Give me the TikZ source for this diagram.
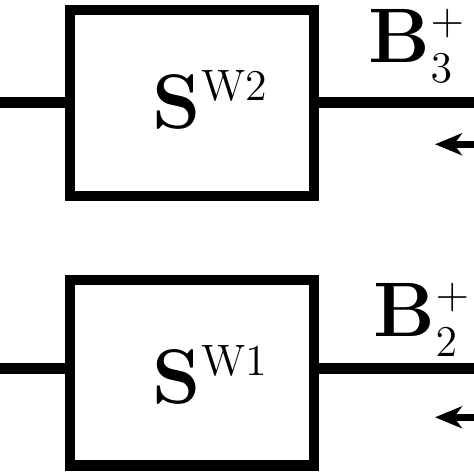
\RequirePackage{fix-cm}
\documentclass[tikz,border=0pt]{standalone}
\usepackage{amsmath,amsfonts}
\usetikzlibrary{arrows.meta}
\DeclareMathSizes{22}{22}{12.5}{9}

\begin{document}
\begin{tikzpicture}[block/.style={draw,line width=1mm,minimum width=2.44cm,minimum height=1.86cm},
                    wire/.style={line width=1.1mm},
                    flow/.style={line width=0.65mm,-{Stealth[length=2.7mm,width=2.2mm,inset=0.8mm]}},
                    lbl/.style={inner sep=0pt,font=\fontsize{22}{26}\selectfont}]
    \useasboundingbox (0,0) rectangle (4.74,4.74);
    % the two blocks
    \node[block] (box2) at (1.92,3.71) {};
    \node[block,minimum height=1.855cm] (box1) at (1.92,1.0125) {};
    \node[lbl,anchor=base west] (s2) at (1.52,3.45) {$\mathbf{S}^{\mathrm{W2}}$};
    \node[lbl,anchor=base west] (s1) at (1.52,0.70) {$\mathbf{S}^{\mathrm{W1}}$};
    % wires
    \coordinate (in2) at (-0.1,3.715);
    \coordinate (out2) at (4.84,3.715);
    \coordinate (in1) at (-0.1,1.05);
    \coordinate (out1) at (4.84,1.05);
    \draw[wire] (in2) -- (in2 -| box2.west);
    \draw[wire] (in2 -| box2.east) -- (out2);
    \draw[wire] (in1) -- (in1 -| box1.west);
    \draw[wire] (in1 -| box1.east) -- (out1);
    % labels and arrows on the right
    \node[lbl,anchor=base west] (b3) at (3.68,4.11) {$\mathbf{B}_3^+$};
    \node[lbl,anchor=base west] (b2) at (3.73,1.37) {$\mathbf{B}_2^+$};
    \node[lbl,anchor=base east] (b1) at (0.06,-0.17) {$\mathbf{B}$};
    \coordinate (r2) at (4.84,3.297);
    \coordinate (t2) at (4.35,3.297);
    \coordinate (r1) at (4.84,0.567);
    \coordinate (t1) at (4.35,0.567);
    \draw[flow] (r2) -- (t2);
    \draw[flow] (r1) -- (t1);
\end{tikzpicture}
\end{document}
